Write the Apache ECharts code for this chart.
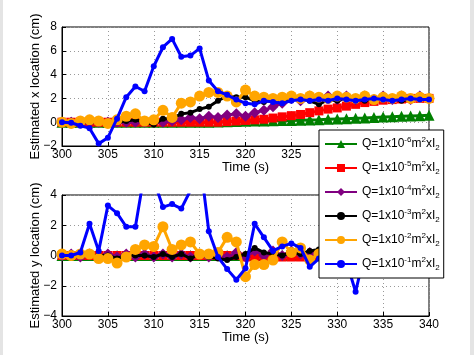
<!DOCTYPE html>
<html><head><meta charset="utf-8">
<script src="https://cdn.jsdelivr.net/npm/echarts@6/dist/echarts.min.js"></script>
<style>html,body{margin:0;padding:0;background:#fff;}#c{width:474px;height:355px;}</style>
</head><body><div id="c"></div>
<script>
const time = [];
for (let t = 300; t <= 340; t++) time.push(t);

const exponents = ['-6', '-5', '-4', '-3', '-2', '-1'];
const seriesNames = exponents.map(e => 'Q=1x10^' + e + 'm^2xI_2');

// Estimated x location (cm), 300..340 s
const greenX  = [0,0,0,0,0,0,0,0,0,0, 0,0,0,0,0,0,0,0.02,0.04,0.06, 0.08,0.1,0.11,0.12,0.14,0.15,0.17,0.19,0.21,0.24, 0.27,0.3,0.33,0.36,0.4,0.43,0.46,0.49,0.52,0.55,0.58];
const redX    = [0,0,0,0,0,0,0,0,0,0, 0,0,0,0,0,0,0,0,0.05,0.1, 0.15,0.2,0.25,0.35,0.45,0.55,0.65,0.8,0.95,1.1, 1.2,1.35,1.5,1.65,1.75,1.85,1.9,1.95,2.0,2.0,2.0];
const purpleX = [0,0,0,0,0,0,0,0,0,0, 0,0,0.1,0.2,0.4,0.3,0.5,0.4,0.6,0.7, 0.5,0.8,1.0,1.3,1.6,2.0,1.8,2.2,1.9,2.2, 1.9,2.2,1.9,2.2,1.9,2.2,1.9,2.2,1.9,2.2,2.0];
const blackX  = [0,0,0,0,0,0,0,0.1,0.2,0.0, -0.2,0.3,0.3,0.7,0.8,1.1,1.3,1.8,2.2,2.1, 2.1,1.8,1.7,1.9,1.8,1.9,2.0,1.8,1.5,1.9, 1.8,2.0,1.9,1.8,2.0,1.9,2.0,1.8,1.9,2.0,1.9];
const orangeX = [0,-0.1,0.1,0.2,0.1,-0.1,0.2,0.5,0.7,0.1, 0.2,1.0,0.4,1.6,1.7,2.2,2.5,2.5,2.2,1.7, 2.7,2.2,2.1,2.0,2.1,2.2,2.0,2.2,2.1,2.0, 2.2,2.1,2.0,2.2,1.9,2.1,2.0,2.2,2.0,2.1,2.0];
const blueX   = [0,-0.05,-0.3,-0.5,-1.8,-1.3,0.3,2.1,3.0,2.6, 4.7,6.3,7.0,5.5,5.6,6.2,3.5,2.6,2.3,1.9, 1.6,1.5,1.8,1.7,1.6,1.8,1.9,1.8,1.9,1.8, 2.0,1.9,1.8,1.9,2.0,1.9,1.8,1.9,2.0,1.9,1.9];

// Estimated y location (cm), 300..340 s
const greenY  = [0,0,0,0,0,0,0,0,0,0, 0,0,0,0,0,0,0,0,0,0, 0,0,0,0,0,0,0,0,0,0, 0,0,0,0,0,0,0,0,0,0,0];
const redY    = [0,0,0,0,0,0,0,0,0,0, 0,0,0,0,0,0,0,0,0,0, -0.1,-0.1,-0.1,-0.1,-0.1,-0.1,-0.1,0,0,0, 0,0,0,0,0,0,0,0,0,0,0];
const purpleY = [0,0.1,-0.1,0.1,-0.1,0.1,-0.1,0.1,-0.1,0.1, -0.1,0.1,-0.1,0.1,-0.1,0.1,-0.1,0.1,-0.1,0.2, -0.1,0.3,0.0,0.3,0.0,0.3,0.1,0.2,0.0,0.2, 0.0,0.1,-0.1,0.1,-0.1,0.1,-0.1,0.1,-0.1,0.1,0.0];
const blackY  = [0,0,0,0,0,0,-0.2,0,0,0, -0.1,0.1,-0.1,0.1,-0.2,0.1,-0.1,-0.2,-0.3,-0.1, 0.1,0.5,0.2,0.1,0.0,0.2,0.1,0.3,0.4,0.2, 0.1,0.0,0.2,0.1,0.0,0.2,0.1,0.0,0.1,0.0,0.1];
const orangeY = [0.1,0.0,0.1,0.1,-0.2,-0.2,-0.5,-0.1,0.4,0.7, 0.6,1.9,0.4,0.7,0.9,0.1,0.1,0.2,1.2,0.9, -1.4,-0.6,-0.6,-0.3,0.9,0.2,0.5,-0.3,0.1,0.2, 0.0,0.1,0.3,0.0,0.2,0.1,0.0,0.2,0.1,0.0,0.1];
const blueY   = [0,0,0.2,2.1,0.3,3.3,2.8,1.9,1.9,5.5, 5.0,3.2,3.4,3.1,4.3,6.5,1.6,-0.1,-0.9,-1.6, -0.85,2.1,1.2,0.3,0.6,0.8,0.5,-0.75,-0.2,-0.5, -0.8,-0.4,-2.4,0.2,0.5,0.3,0.1,0.4,0.2,0.3,0.3];

const xTickLabels = ['300','305','310','315','320','325','330','335','340'];

const colors  = ['#008000', '#ff0000', '#800080', '#000000', '#ffa500', '#0000ff'];
const symbols = ['triangle', 'rect', 'diamond', 'circle', 'circle', 'circle'];
const sizes   = [11, 9, 11, 6, 11, 6];
const topData = [greenX, redX, purpleX, blackX, orangeX, blueX];
const botData = [greenY, redY, purpleY, blackY, orangeY, blueY];

const FONT = 'Liberation Sans, Arial, sans-serif';

function mkSeries(dataSets, idx) {
  return dataSets.map((d, i) => ({
    name: seriesNames[i],
    type: 'line',
    xAxisIndex: idx, yAxisIndex: idx,
    data: time.map((t, k) => [t, d[k]]),
    symbol: symbols[i],
    symbolSize: sizes[i],
    showAllSymbol: true,
    color: colors[i],
    lineStyle: { width: 3, color: colors[i] },
    itemStyle: { color: colors[i], borderColor: colors[i], borderWidth: 0 },
    clip: true,
    animation: false,
    z: 2 + i
  }));
}

function xAxisCfg(gi) {
  return {
    type: 'value', gridIndex: gi, min: 300, max: 340, interval: 5,
    name: 'Time (s)', nameLocation: 'middle', nameGap: 15, nameMoveOverlap: false,
    nameTextStyle: { fontFamily: FONT, fontSize: 13, color: '#000' },
    axisLine: { show: true, onZero: false, lineStyle: { color: '#000', width: 1 } },
    axisTick: { show: true, inside: true, length: 4, lineStyle: { color: '#000' } },
    axisLabel: { fontFamily: FONT, fontSize: 12, color: '#000', margin: 3,
      formatter: v => xTickLabels[(v - 300) / 5] },
    splitLine: { show: true, lineStyle: { type: [1, 3], color: '#999', width: 1 } }
  };
}
function yAxisCfg(gi, name, min, max) {
  return {
    type: 'value', gridIndex: gi, min: min, max: max, interval: 2,
    name: name, nameLocation: 'middle', nameGap: 20, nameMoveOverlap: false,
    nameTextStyle: { fontFamily: FONT, fontSize: 13, color: '#000' },
    axisLine: { show: true, onZero: false, lineStyle: { color: '#000', width: 1 } },
    axisTick: { show: true, inside: true, length: 4, lineStyle: { color: '#000' } },
    axisLabel: { fontFamily: FONT, fontSize: 12, color: '#000', margin: 5,
      formatter: v => (v < 0 ? '\u2212' + Math.abs(v) : String(v)) },
    splitLine: { show: true, lineStyle: { type: [1, 3], color: '#999', width: 1 } }
  };
}

const chart = echarts.init(document.getElementById('c'), null, { renderer: 'canvas' });
chart.setOption({
  animation: false,
  backgroundColor: '#ffffff',
  graphic: [
    { type: 'rect', left: 0, top: 0, shape: { width: 3, height: 355 }, style: { fill: '#e4e4e4' }, silent: true },
    { type: 'rect', left: 470, top: 0, shape: { width: 4, height: 355 }, style: { fill: '#e4e4e4' }, silent: true }
  ],
  grid: [
    { left: 62, right: 45, top: 27, height: 119, show: true, borderColor: '#000', borderWidth: 1, backgroundColor: 'transparent' },
    { left: 62, right: 45, top: 195, height: 121, show: true, borderColor: '#000', borderWidth: 1, backgroundColor: 'transparent' }
  ],
  xAxis: [xAxisCfg(0), xAxisCfg(1)],
  yAxis: [yAxisCfg(0, 'Estimated x location (cm)', -2, 8), yAxisCfg(1, 'Estimated y location (cm)', -4, 4)],
  legend: {
    orient: 'vertical', left: 319, top: 130, width: 125,
    backgroundColor: '#fff', borderColor: '#000', borderWidth: 1,
    padding: [6, 4, 6, 5], itemGap: 8, itemWidth: 32, itemHeight: 10,
    data: seriesNames, z: 20,
    selectedMode: false,
    formatter: function (n) {
      const i = seriesNames.indexOf(n);
      return 'Q=1x10{sup|' + exponents[i] + '}m{sup|2}xI{sub|2}';
    },
    textStyle: {
      fontFamily: FONT, fontSize: 12, color: '#000', lineHeight: 16,
      rich: {
        sup: { fontFamily: FONT, fontSize: 8, lineHeight: 8, verticalAlign: 'top', color: '#000' },
        sub: { fontFamily: FONT, fontSize: 8, lineHeight: 8, verticalAlign: 'bottom', color: '#000' }
      }
    }
  },
  series: mkSeries(topData, 0).concat(mkSeries(botData, 1))
});
</script>
</body></html>
